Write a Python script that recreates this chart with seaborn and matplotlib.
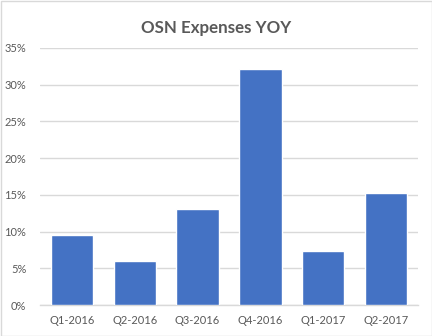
import matplotlib
matplotlib.use("Agg")
import matplotlib.pyplot as plt
import seaborn as sns
import pandas as pd
from matplotlib.ticker import FuncFormatter, MultipleLocator

quarters = ["Q1-2016", "Q2-2016", "Q3-2016", "Q4-2016", "Q1-2017", "Q2-2017"]
expense_growth = [9.6, 6.0, 13.1, 32.1, 7.4, 15.3]

df = pd.DataFrame({"quarter": quarters, "growth": expense_growth})

sns.set_theme(style="white")
plt.rcParams["font.family"] = ["Lato", "DejaVu Sans"]

fig = plt.figure(figsize=(4.32, 3.36), dpi=100)
ax = fig.add_axes([40.3 / 432, 1 - 305 / 336, (417.7 - 40.3) / 432, (305 - 48) / 336])

sns.barplot(data=df, x="quarter", y="growth", color="#4472C4", width=0.67,
            saturation=1, ax=ax, zorder=3)

ax.set_ylim(0, 35)
ax.set_xlim(-0.5, len(quarters) - 0.5)
ax.yaxis.set_major_locator(MultipleLocator(5))
ax.yaxis.set_major_formatter(FuncFormatter(lambda v, _: f"{v:.0f}%"))
ax.grid(axis="y", color="#D9D9D9", linewidth=1, zorder=0)
ax.set_xlabel("")
ax.set_ylabel("")

for s in ["top", "right", "left"]:
    ax.spines[s].set_visible(False)
ax.spines["bottom"].set_color("#D9D9D9")
ax.spines["bottom"].set_linewidth(1)

# category separator ticks along the x axis
ax.set_xticks(range(len(quarters)))
ax.set_xticks([i - 0.5 for i in range(len(quarters) + 1)], minor=True)
ax.tick_params(axis="x", which="major", length=0, pad=7, labelsize=8.0, labelcolor="#595959")
ax.tick_params(axis="x", which="minor", length=4, width=1, color="#D9D9D9", direction="out")
ax.tick_params(axis="y", length=0, pad=10, labelsize=8.0, labelcolor="#595959")

fig.text(0.5, 1 - 28 / 336, "OSN Expenses YOY", ha="center", va="center",
         fontsize=12.2, fontweight="bold", color="#595959")

# outer chart border
fig.patches.append(plt.Rectangle((0.5 / 432, 0.5 / 336), 1 - 1 / 432, 1 - 1 / 336,
                                 transform=fig.transFigure, fill=False,
                                 edgecolor="#D9D9D9", linewidth=1))

fig.savefig("out.png", dpi=100)
